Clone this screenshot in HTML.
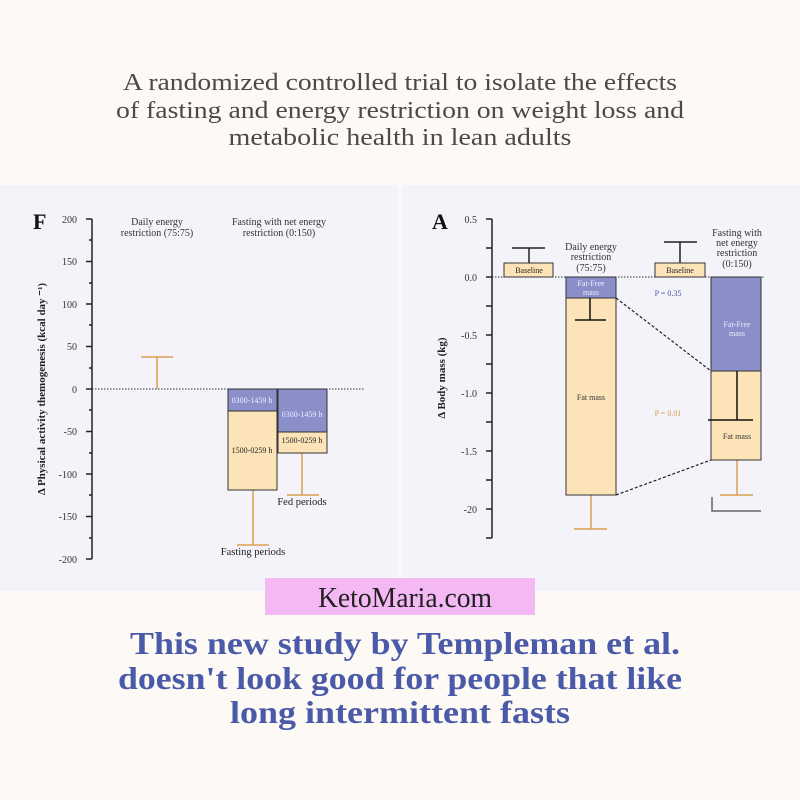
<!DOCTYPE html>
<html><head><meta charset="utf-8"><style>
html,body{margin:0;padding:0;background:#fdf9f5;}
svg{display:block;}
</style></head><body>
<svg width="800" height="800" viewBox="0 0 800 800" xmlns="http://www.w3.org/2000/svg" font-family="Liberation Serif, serif">
<rect width="800" height="800" fill="#fdf9f5"/>
<g fill="#4a4a4a" font-size="24" text-anchor="middle">
<text x="400" y="90" textLength="554" lengthAdjust="spacingAndGlyphs">A randomized controlled trial to isolate the effects</text>
<text x="400" y="118" textLength="568" lengthAdjust="spacingAndGlyphs">of fasting and energy restriction on weight loss and</text>
<text x="400" y="145" textLength="343" lengthAdjust="spacingAndGlyphs">metabolic health in lean adults</text>
</g>
<rect x="0" y="185" width="398" height="406" fill="#f3f3f9"/>
<rect x="402" y="185" width="398" height="406" fill="#f3f3f9"/>

<!-- LEFT PANEL -->
<text x="33" y="229" font-size="22" font-weight="bold" fill="#111">F</text>
<g stroke="#222" stroke-width="1.5" fill="none">
<line x1="92" y1="219" x2="92" y2="559"/>
<line x1="86" y1="219" x2="92" y2="219"/><line x1="86" y1="261.5" x2="92" y2="261.5"/>
<line x1="86" y1="304" x2="92" y2="304"/><line x1="86" y1="346.5" x2="92" y2="346.5"/>
<line x1="86" y1="389" x2="92" y2="389"/><line x1="86" y1="431.5" x2="92" y2="431.5"/>
<line x1="86" y1="474" x2="92" y2="474"/><line x1="86" y1="516.5" x2="92" y2="516.5"/>
<line x1="86" y1="559" x2="92" y2="559"/>
<line x1="89" y1="240" x2="92" y2="240"/><line x1="89" y1="283" x2="92" y2="283"/>
<line x1="89" y1="325" x2="92" y2="325"/><line x1="89" y1="368" x2="92" y2="368"/>
<line x1="89" y1="410" x2="92" y2="410"/><line x1="89" y1="453" x2="92" y2="453"/>
<line x1="89" y1="495" x2="92" y2="495"/><line x1="89" y1="538" x2="92" y2="538"/>
</g>
<g font-size="10" fill="#333" text-anchor="end">
<text x="77" y="223">200</text><text x="77" y="265">150</text><text x="77" y="308">100</text>
<text x="77" y="350">50</text><text x="77" y="393">0</text><text x="77" y="435">-50</text>
<text x="77" y="478">-100</text><text x="77" y="520">-150</text><text x="77" y="563">-200</text>
</g>
<text transform="translate(45,389) rotate(-90)" font-size="11" font-weight="bold" fill="#222" text-anchor="middle">Δ Physical activity themogenesis (kcal day ⁻¹)</text>
<g font-size="10" fill="#333" text-anchor="middle">
<text x="157" y="225">Daily energy</text><text x="157" y="236">restriction (75:75)</text>
<text x="279" y="225">Fasting with net energy</text><text x="279" y="236">restriction (0:150)</text>
</g>
<g stroke="#d9a050" stroke-width="1.5">
<line x1="157" y1="389" x2="157" y2="357"/><line x1="141" y1="357" x2="173" y2="357"/>
<line x1="253" y1="490" x2="253" y2="545"/><line x1="237" y1="545" x2="269" y2="545"/>
<line x1="302" y1="453" x2="302" y2="495"/><line x1="287" y1="495" x2="319" y2="495"/>
</g>
<line x1="92" y1="389" x2="364" y2="389" stroke="#333" stroke-width="1" stroke-dasharray="1.5,1.5"/>
<g stroke="#333" stroke-width="1">
<rect x="228" y="389" width="49" height="22" fill="#8a8ec9"/>
<rect x="228" y="411" width="49" height="79" fill="#fde4b8"/>
<rect x="278" y="389" width="49" height="43" fill="#8a8ec9"/>
<rect x="278" y="432" width="49" height="21" fill="#fde4b8"/>
</g>
<g font-size="8" text-anchor="middle">
<text x="252" y="403" fill="#eef">0300-1459 h</text>
<text x="302" y="417" fill="#eef">0300-1459 h</text>
<text x="252" y="453" fill="#222">1500-0259 h</text>
<text x="302" y="443" fill="#222">1500-0259 h</text>
</g>
<g font-size="10.5" fill="#222" text-anchor="middle">
<text x="302" y="505">Fed periods</text>
<text x="253" y="555">Fasting periods</text>
</g>

<!-- RIGHT PANEL -->
<text x="432" y="229" font-size="22" font-weight="bold" fill="#111">A</text>
<g stroke="#222" stroke-width="1.5" fill="none">
<line x1="492" y1="219" x2="492" y2="538"/>
<line x1="486" y1="219" x2="492" y2="219"/><line x1="486" y1="248" x2="492" y2="248"/>
<line x1="486" y1="277" x2="492" y2="277"/><line x1="486" y1="306" x2="492" y2="306"/>
<line x1="486" y1="335" x2="492" y2="335"/><line x1="486" y1="364" x2="492" y2="364"/>
<line x1="486" y1="393" x2="492" y2="393"/><line x1="486" y1="422" x2="492" y2="422"/>
<line x1="486" y1="451" x2="492" y2="451"/><line x1="486" y1="480" x2="492" y2="480"/>
<line x1="486" y1="509" x2="492" y2="509"/><line x1="486" y1="538" x2="492" y2="538"/>
</g>
<g font-size="10" fill="#333" text-anchor="end">
<text x="477" y="223">0.5</text><text x="477" y="281">0.0</text><text x="477" y="339">-0.5</text>
<text x="477" y="397">-1.0</text><text x="477" y="455">-1.5</text><text x="477" y="513">-20</text>
</g>
<text transform="translate(445,378) rotate(-90)" font-size="11" font-weight="bold" fill="#222" text-anchor="middle">Δ Body mass (kg)</text>
<g font-size="10" fill="#333" text-anchor="middle">
<text x="591" y="250">Daily energy</text><text x="591" y="260">restriction</text><text x="591" y="271">(75:75)</text>
<text x="737" y="236">Fasting with</text><text x="737" y="246">net energy</text><text x="737" y="256">restriction</text><text x="737" y="267">(0:150)</text>
</g>
<g stroke="#222" stroke-width="1.5">
<line x1="529" y1="263" x2="529" y2="248"/><line x1="512" y1="248" x2="545" y2="248"/>
<line x1="680" y1="263" x2="680" y2="242"/><line x1="664" y1="242" x2="697" y2="242"/>
</g>
<g stroke="#d9a050" stroke-width="1.5">
<line x1="591" y1="495" x2="591" y2="529"/><line x1="574" y1="529" x2="607" y2="529"/>
<line x1="737" y1="460" x2="737" y2="495"/><line x1="720" y1="495" x2="753" y2="495"/>
</g>
<line x1="492" y1="277" x2="765" y2="277" stroke="#333" stroke-width="1" stroke-dasharray="1.5,1.5"/>
<g stroke="#333" stroke-width="1">
<rect x="504" y="263" width="49" height="14" fill="#fde4b8"/>
<rect x="655" y="263" width="50" height="14" fill="#fde4b8"/>
<rect x="566" y="277" width="50" height="21" fill="#8a8ec9"/>
<rect x="566" y="298" width="50" height="197" fill="#fde4b8"/>
<rect x="711" y="277" width="50" height="94" fill="#8a8ec9"/>
<rect x="711" y="371" width="50" height="89" fill="#fde4b8"/>
</g>
<g stroke="#111" stroke-width="1.5">
<line x1="590" y1="298" x2="590" y2="320"/><line x1="575" y1="320" x2="606" y2="320"/>
<line x1="737" y1="371" x2="737" y2="420"/><line x1="708" y1="420" x2="753" y2="420"/>
</g>
<g stroke="#222" stroke-width="1.2" stroke-dasharray="3,2">
<line x1="616" y1="298" x2="711" y2="371"/><line x1="616" y1="495" x2="711" y2="460"/>
</g>
<path d="M712 497 V511 H761" fill="none" stroke="#666" stroke-width="1.5"/>
<g font-size="8" text-anchor="middle">
<text x="529" y="273" fill="#222">Baseline</text>
<text x="680" y="273" fill="#222">Baseline</text>
<text x="591" y="286" fill="#eef">Fat-Free</text><text x="591" y="295" fill="#eef">mass</text>
<text x="737" y="327" fill="#eef">Fat-Free</text><text x="737" y="336" fill="#eef">mass</text>
<text x="591" y="400" fill="#333">Fat mass</text>
<text x="737" y="439" fill="#333">Fat mass</text>
<text x="668" y="296" fill="#4a55a0">P = 0.35</text>
<text x="668" y="416" fill="#d9a050">P = 0.01</text>
</g>

<!-- Watermark -->
<rect x="265" y="578" width="270" height="37" fill="#f4b8f4"/>
<text x="405" y="607" font-size="29" fill="#222" text-anchor="middle" textLength="174" lengthAdjust="spacingAndGlyphs">KetoMaria.com</text>

<g fill="#4a5aa8" font-size="32" font-weight="bold" text-anchor="middle">
<text x="405" y="654" textLength="550" lengthAdjust="spacingAndGlyphs">This new study by Templeman et al.</text>
<text x="400" y="689" textLength="564" lengthAdjust="spacingAndGlyphs">doesn't look good for people that like</text>
<text x="400" y="723" textLength="340" lengthAdjust="spacingAndGlyphs">long intermittent fasts</text>
</g>
</svg>
</body></html>
